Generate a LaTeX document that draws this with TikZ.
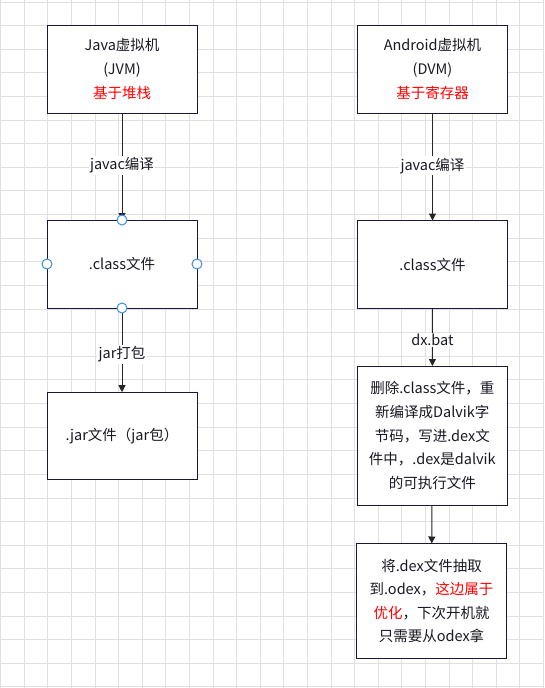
\documentclass[tikz,border=0pt]{standalone}
\usepackage{fontspec}
\setmainfont{Noto Sans CJK SC}
\usetikzlibrary{arrows.meta}
\definecolor{gridc}{RGB}{224,224,224}
\definecolor{boxc}{RGB}{24,24,60}
\definecolor{txtc}{RGB}{25,25,35}
\definecolor{redc}{RGB}{255,0,0}
\definecolor{selc}{RGB}{60,140,230}
\tikzset{
  box/.style={draw=boxc, line width=1pt, fill=white, minimum width=150pt, inner sep=0pt, outer sep=0pt, align=center, text=txtc, font=\fontsize{14.5}{23.6}\selectfont},
  conn/.style={draw=black!85, line width=1pt, -{Triangle[width=7pt,length=7pt]}},
  lbl/.style={fill=white, inner sep=1.5pt, text=txtc, font=\fontsize{14.5}{17}\selectfont},
  handle/.style={circle, draw=selc, fill=white, line width=1pt, minimum size=10pt, inner sep=0pt}
}
\begin{document}
\begin{tikzpicture}[x=1pt,y=-1pt]
\useasboundingbox (0,0) rectangle (544,688);
\fill[white] (0,0) rectangle (544,688);
\foreach \k in {0,...,23} {\draw[gridc, line width=1pt] ({0.7+\k*23.6},0) -- ({0.7+\k*23.6},688);}
\foreach \k in {0,...,29} {\draw[gridc, line width=1pt] (0,{2+\k*23.62}) -- (544,{2+\k*23.62});}

\node[box, minimum height=88pt] (jvm) at (122,69) {Java虚拟机\\(JVM)\\\textcolor{redc}{基于堆栈}};
\node[box, minimum height=88pt] (dvm) at (432.5,69) {Android虚拟机\\(DVM)\\\textcolor{redc}{基于寄存器}};
\node[box, minimum height=88pt] (cls1) at (122,264) {.class文件};
\node[box, minimum height=88pt] (cls2) at (432.5,264.5) {.class文件};
\node[box, minimum height=87pt] (jar) at (122,435.7) {.jar文件（jar包）};
\node[box, minimum height=139pt] (dex) at (432.3,435.5) {删除.class文件，重\\新编译成Dalvik字\\节码，写进.dex文\\件中，.dex是dalvik\\的可执行文件};
\node[box, minimum height=115pt, minimum width=149.5pt] (odex) at (431.5,601) {将.dex文件抽取\\到.odex，\textcolor{redc}{这边属于}\\\textcolor{redc}{优化}，下次开机就\\只需要从odex拿};

\draw[conn] (jvm) -- node[lbl, pos=0.49] {javac编译} (cls1);
\draw[conn] (cls1) -- node[lbl, pos=0.55] {jar打包} (jar);
\draw[conn] (dvm) -- node[lbl, pos=0.49] {javac编译} (cls2);
\draw[conn] (cls2) -- node[lbl, pos=0.55] {dx.bat} (dex);
\draw[conn] (dex) -- (odex);

\node[handle] (h1) at (cls1.north) {};
\node[handle] (h2) at (cls1.south) {};
\node[handle] (h3) at (cls1.west) {};
\node[handle] (h4) at (cls1.east) {};
\end{tikzpicture}
\end{document}
